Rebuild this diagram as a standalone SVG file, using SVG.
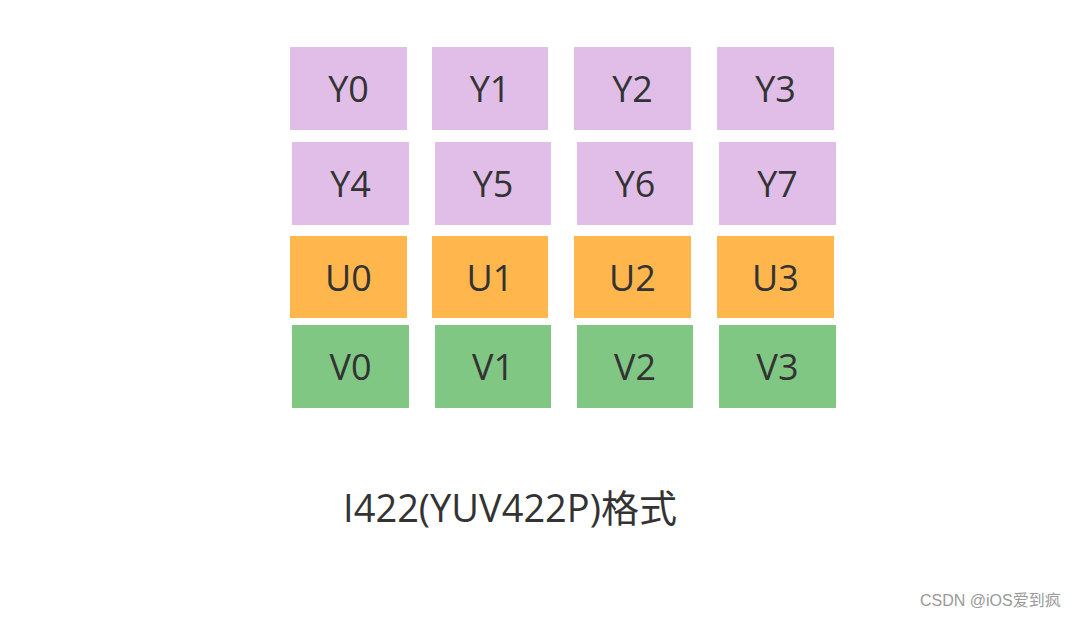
<svg xmlns="http://www.w3.org/2000/svg" width="1082" height="618" viewBox="0 0 1082 618">
<style>
.y{fill:#E1BEE7}.u{fill:#FFB74D}.v{fill:#81C784}
.t{font-family:"Open Sans","Noto Sans",sans-serif;font-size:36px;fill:#333;text-anchor:middle;dominant-baseline:central}
.ti{font-family:"Open Sans","Noto Sans CJK SC",sans-serif;font-size:38px;fill:#333;text-anchor:middle}
.w{font-family:"Liberation Sans","Noto Sans CJK SC",sans-serif;font-size:16px;fill:#999}
</style>
<rect width="1082" height="618" fill="#fff"/>
<g id="Y0"><rect class="y" x="290" y="47" width="117" height="83"/><text class="t" x="348.5" y="88.5">Y0</text></g>
<g id="Y1"><rect class="y" x="432" y="47" width="116" height="83"/><text class="t" x="490" y="88.5">Y1</text></g>
<g id="Y2"><rect class="y" x="574" y="47" width="117" height="83"/><text class="t" x="632.5" y="88.5">Y2</text></g>
<g id="Y3"><rect class="y" x="717" y="47" width="117" height="83"/><text class="t" x="775.5" y="88.5">Y3</text></g>
<g id="Y4"><rect class="y" x="292" y="142" width="117" height="83"/><text class="t" x="350.5" y="183.5">Y4</text></g>
<g id="Y5"><rect class="y" x="435" y="142" width="116" height="83"/><text class="t" x="493" y="183.5">Y5</text></g>
<g id="Y6"><rect class="y" x="577" y="142" width="116" height="83"/><text class="t" x="635" y="183.5">Y6</text></g>
<g id="Y7"><rect class="y" x="719" y="142" width="117" height="83"/><text class="t" x="777.5" y="183.5">Y7</text></g>
<g id="U0"><rect class="u" x="290" y="236" width="117" height="82"/><text class="t" x="348.5" y="277">U0</text></g>
<g id="U1"><rect class="u" x="432" y="236" width="116" height="82"/><text class="t" x="490" y="277">U1</text></g>
<g id="U2"><rect class="u" x="574" y="236" width="117" height="82"/><text class="t" x="632.5" y="277">U2</text></g>
<g id="U3"><rect class="u" x="717" y="236" width="117" height="82"/><text class="t" x="775.5" y="277">U3</text></g>
<g id="V0"><rect class="v" x="292" y="325" width="117" height="83"/><text class="t" x="350.5" y="366.5">V0</text></g>
<g id="V1"><rect class="v" x="435" y="325" width="116" height="83"/><text class="t" x="493" y="366.5">V1</text></g>
<g id="V2"><rect class="v" x="577" y="325" width="116" height="83"/><text class="t" x="635" y="366.5">V2</text></g>
<g id="V3"><rect class="v" x="719" y="325" width="117" height="83"/><text class="t" x="777.5" y="366.5">V3</text></g>
<g id="connectors"/>
<text class="ti" x="510" y="522">I422(YUV422P)格式</text>
<text class="w" x="920" y="606">CSDN @iOS爱到疯</text>
</svg>
